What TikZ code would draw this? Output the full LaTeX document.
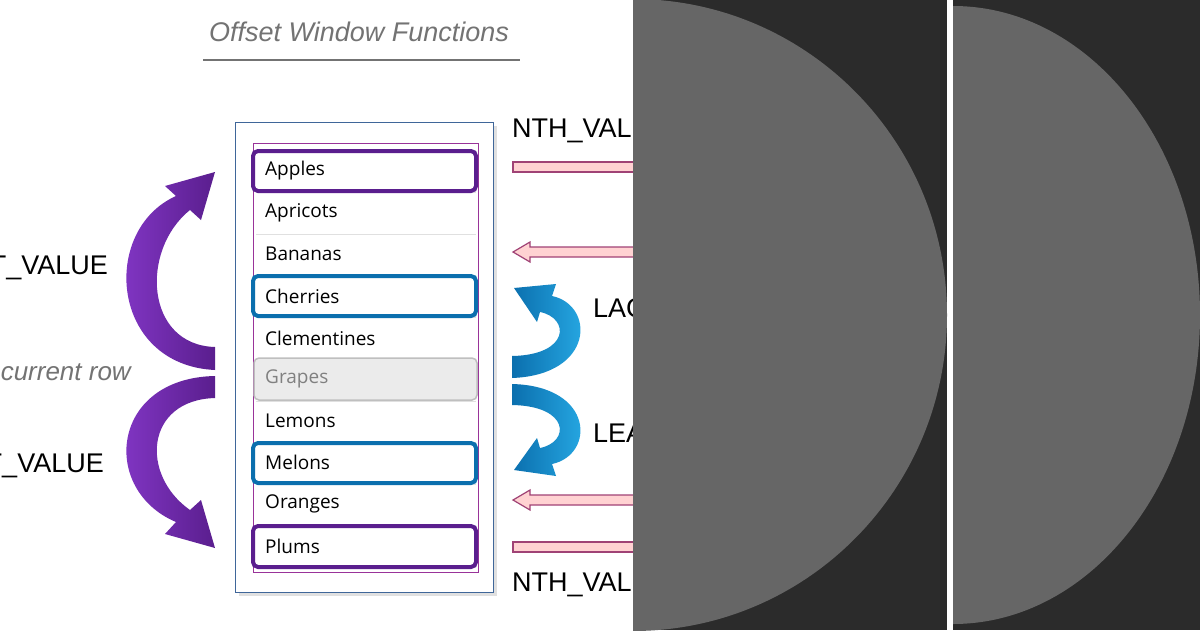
\documentclass[tikz,border=0pt]{standalone}
\usepackage{fontspec}
\setmainfont{Liberation Sans}
\newfontfamily\rowfont{Open Sans}
\definecolor{pdark}{HTML}{5A1E8E}
\definecolor{plight}{HTML}{8A3BD0}
\definecolor{bdark}{HTML}{0B6FAE}
\definecolor{blight}{HTML}{2AB0EA}
\begin{document}
\begin{tikzpicture}[x=1pt,y=-1pt,
  rowtxt/.style={anchor=west,font=\rowfont\fontsize{19}{22}\selectfont,text=black,inner sep=0},
  lab/.style={font=\fontsize{27}{30}\selectfont,inner sep=0},
  hlp/.style={draw=pdark,line width=4pt,rounded corners=5pt},
  hlb/.style={draw=bdark,line width=4pt,rounded corners=5pt},
  pinkarr/.style={fill=pink!70,draw=magenta!60!black,line width=1.2pt},
  purparr/.style={left color=plight,right color=pdark},
  bluearr/.style={left color=bdark,right color=blight},
  panel/.style={fill=black!83},
  disc/.style={fill=black!60}]
\useasboundingbox (0,0) rectangle (1200,630);
\clip (0,0) rectangle (1200,630);
\fill[white] (0,0) rectangle (1200,630);
% title
\node[font=\itshape\fontsize{27}{30}\selectfont,text=black!55,inner sep=0] (title) at (359,32) {Offset Window Functions};
\draw[black!55,line width=1.5pt] (203,60) -- (520,60);
% list box
\fill[black!12] (239,126) rectangle (497,596);
\node[draw=cyan!50!blue!70!black,line width=1pt,fill=white,minimum width=258,minimum height=470,inner sep=0] (box) at (364,357) {};
\draw[violet!80,line width=0.8pt] (253,143) rectangle (478,572);
\foreach \i in {1,...,9}{\draw[black!12] (256,{150.5+\i*41.7}) -- (476,{150.5+\i*41.7});}
\fill[black!8,draw=black!25,line width=1.5pt,rounded corners=5pt] (254,358) rectangle (477,400);
\draw[hlp] (253,151) rectangle (476,191);
\draw[hlp] (253,526) rectangle (476,567);
\draw[hlb] (253,276) rectangle (476,316);
\draw[hlb] (253,443) rectangle (476,483);
\node[rowtxt] (r1) at (265,171) {Apples};
\node[rowtxt] (r2) at (265,213) {Apricots};
\node[rowtxt] (r3) at (265,254) {Bananas};
\node[rowtxt] (r4) at (265,296) {Cherries};
\node[rowtxt] (r5) at (265,338) {Clementines};
\node[rowtxt,text=black!50] (r6) at (265,379) {Grapes};
\node[rowtxt] (r7) at (265,421) {Lemons};
\node[rowtxt] (r8) at (265,462) {Melons};
\node[rowtxt] (r9) at (265,504) {Oranges};
\node[rowtxt] (r10) at (265,546) {Plums};
% left labels
\node[lab,anchor=east] (first) at (108,268) {FIRST\_VALUE};
\node[lab,anchor=east] (last) at (104,466) {LAST\_VALUE};
\node[font=\itshape\fontsize{26}{30}\selectfont,text=black!55,anchor=east,inner sep=0] (cur) at (131,372) {current row};
% purple arrows
\shade[purparr] (215,370) .. controls (110,365) and (100,230) .. (176,196) -- (165,186) -- (215,172) -- (201,220) -- (190,210) .. controls (140,250) and (145,345) .. (215,347) -- cycle;
\shade[purparr] (215,398) .. controls (145,400) and (140,475) .. (190,510) -- (201,500) -- (215,548) -- (165,534) -- (176,522) .. controls (100,490) and (110,378) .. (215,376) -- cycle;
% blue arrows
\shade[bluearr] (512,378) .. controls (595,375) and (595,305) .. (552,296) -- (556,284) -- (514,288) -- (537,322) -- (540,312) .. controls (570,318) and (570,355) .. (512,356) -- cycle;
\shade[bluearr] (512,384) .. controls (595,386) and (595,455) .. (552,464) -- (556,476) -- (514,470) -- (537,438) -- (540,448) .. controls (570,442) and (570,406) .. (512,405) -- cycle;
\node[lab,anchor=west] (lag) at (593,308) {LAG};
\node[lab,anchor=west] (lead) at (593,433) {LEAD};
% pink arrows
\draw[pinkarr] (513,162) rectangle (640,172);
\draw[pinkarr] (640,247) -- (530,247) -- (530,242) -- (513,252) -- (530,262) -- (530,257) -- (640,257);
\draw[pinkarr] (640,495) -- (530,495) -- (530,490) -- (513,500) -- (530,510) -- (530,505) -- (640,505);
\draw[pinkarr] (513,542) rectangle (640,552);
\node[lab,anchor=west] (nth1) at (512,131) {NTH\_VALUE};
\node[lab,anchor=west] (nth2) at (512,585) {NTH\_VALUE};
% dark panels
\fill[panel] (633,0) rectangle (947,630);
\fill[panel] (953,0) rectangle (1200,630);
\begin{scope}
\clip (633,0) rectangle (947,630);
\fill[disc] (633,315) ellipse [x radius=314, y radius=316];
\end{scope}
\begin{scope}
\clip (953,0) rectangle (1200,630);
\fill[disc] (953,315) ellipse [x radius=247, y radius=309];
\end{scope}
\end{tikzpicture}
\end{document}
